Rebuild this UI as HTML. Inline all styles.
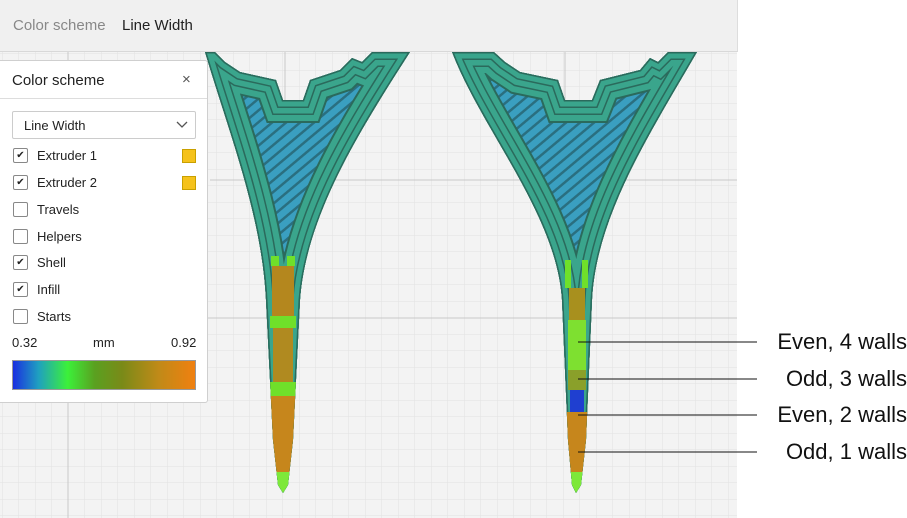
<!DOCTYPE html>
<html><head><meta charset="utf-8"><style>
body{margin:0;width:907px;height:518px;overflow:hidden;background:#fff;font-family:"Liberation Sans",sans-serif;position:relative}
.tb{position:absolute;left:0;top:0;width:737px;height:51px;background:#f0f0f0;border-bottom:1px solid #d8d8d8;border-right:1px solid #ddd}
.panel{position:absolute;left:0;top:60px;width:207px;height:341px;background:#fff;border:1px solid #cfcfcf;border-left:none;border-radius:0 3px 3px 0}
.t{position:absolute;font-size:13px;color:#222;white-space:nowrap}
.cb{position:absolute;left:13px;width:13px;height:13px;border:1px solid #888;border-radius:2px;background:#fff;font-size:10px;line-height:13px;text-align:center;color:#222}
.sw{position:absolute;left:182px;width:12px;height:12px;background:#f5c21b;border:1px solid #c9a000}
.ann{position:absolute;right:0;font-size:22px;color:#111;white-space:nowrap}
</style></head><body>
<svg width="907" height="518" style="position:absolute;left:0;top:0">
<defs>
<pattern id="g" width="16.5" height="16.5" patternUnits="userSpaceOnUse" x="2" y="4">
<rect width="16.5" height="16.5" fill="#f3f3f3"/><path d="M0 0H16.5M0 0V16.5" stroke="#e2e2e2" stroke-width="1"/></pattern>
<pattern id="h" width="9" height="9" patternUnits="userSpaceOnUse" patternTransform="rotate(-40)">
<rect width="9" height="9" fill="#3a9fc0"/><rect y="6.5" width="9" height="2.5" fill="#2a6f80"/></pattern>
<path id="L" d="M205,52 C228,130 262,215 266,300 L273,440 L278,485 L283,493 L288,485 L293,440 L300,300 C306,215 360,130 410,52 L372,52 L362,62 L352,58 L340,70 L310,80 L303,100 L283,100 L276,80 L240,72 L225,62 L215,52 Z"/>
<path id="R" d="M452,52 C482,130 557,215 562,300 L568,440 L572,485 L576,493 L581,485 L586,440 L592,300 C596,215 652,130 697,52 L668,52 L658,62 L650,58 L640,70 L600,80 L592,100 L565,100 L558,80 L520,72 L505,62 L494,52 Z"/>
<clipPath id="cL"><use href="#L"/></clipPath>
<clipPath id="cR"><use href="#R"/></clipPath>
</defs>
<rect width="737" height="518" fill="url(#g)"/>
<path d="M68 52V518M285 52V100M565 52V100M0 318H737M210 180H737" stroke="#c8c8c8" stroke-width="1"/>
<g clip-path="url(#cL)">
<use href="#L" fill="url(#h)"/>
<use href="#L" fill="none" stroke="#2b6a5c" stroke-width="46"/>
<use href="#L" fill="none" stroke="#3aa58c" stroke-width="42"/>
<use href="#L" fill="none" stroke="#2b6a5c" stroke-width="30"/>
<use href="#L" fill="none" stroke="#3aa58c" stroke-width="27"/>
<use href="#L" fill="none" stroke="#2b6a5c" stroke-width="16"/>
<use href="#L" fill="none" stroke="#3aa58c" stroke-width="13"/>
<use href="#L" fill="none" stroke="#2b6a5c" stroke-width="3"/>
<rect x="271" y="256" width="8" height="10" fill="#6fe02a"/><rect x="287" y="256" width="8" height="10" fill="#6fe02a"/>
<rect x="272" y="266" width="22" height="50" fill="#b4871e"/>
<rect x="270" y="316" width="26" height="12" fill="#6fe02a"/><rect x="273" y="328" width="20" height="54" fill="#b08a20"/>
<rect x="270" y="382" width="26" height="14" fill="#6fe02a"/><rect x="270" y="396" width="26" height="76" fill="#c6861c"/>
<rect x="270" y="472" width="26" height="22" fill="#7de83a"/>
</g>
<g clip-path="url(#cR)">
<use href="#R" fill="url(#h)"/>
<use href="#R" fill="none" stroke="#2b6a5c" stroke-width="46"/>
<use href="#R" fill="none" stroke="#3aa58c" stroke-width="42"/>
<use href="#R" fill="none" stroke="#2b6a5c" stroke-width="30"/>
<use href="#R" fill="none" stroke="#3aa58c" stroke-width="27"/>
<use href="#R" fill="none" stroke="#2b6a5c" stroke-width="16"/>
<use href="#R" fill="none" stroke="#3aa58c" stroke-width="13"/>
<use href="#R" fill="none" stroke="#2b6a5c" stroke-width="3"/>
<rect x="565" y="260" width="6" height="28" fill="#6fe02a"/><rect x="582" y="260" width="6" height="28" fill="#6fe02a"/>
<rect x="569" y="288" width="16" height="32" fill="#a8901e"/>
<rect x="568" y="320" width="18" height="50" fill="#7ee030"/><rect x="568" y="370" width="18" height="20" fill="#8aa02a"/>
<rect x="570" y="390" width="14" height="22" fill="#1f3fd0"/><rect x="566" y="412" width="22" height="60" fill="#c6861c"/>
<rect x="560" y="472" width="35" height="22" fill="#7de83a"/>
</g>
<path d="M578 342H757M578 379H757M578 415H757M578 452H757" stroke="#111" stroke-width="1"/>
<path d="M715 22l5 5 5-5" fill="none" stroke="#555" stroke-width="1.3"/>
</svg>
<div class="tb"><span class="t" style="left:13px;top:17px;font-size:15px;color:#888">Color scheme</span><span class="t" style="left:122px;top:17px;font-size:15px">Line Width</span></div>
<div class="panel">
<span class="t" style="left:12px;top:11px;font-size:15px">Color scheme</span>
<span class="t" style="left:182px;top:10px;font-size:15px;color:#555">×</span>
<div style="position:absolute;left:0;top:37px;width:207px;border-top:1px solid #ddd"></div>
<div style="position:absolute;left:12px;top:50px;width:182px;height:26px;border:1px solid #ccc;border-radius:2px"></div>
<span class="t" style="left:24px;top:57px">Line Width</span>
<svg style="position:absolute;left:176px;top:60px" width="12" height="8"><path d="M1 1l5 5 5-5" fill="none" stroke="#555" stroke-width="1.3"/></svg>
<div class="cb" style="top:87px">✔</div><span class="t" style="left:37px;top:87px">Extruder 1</span><div class="sw" style="top:88px"></div>
<div class="cb" style="top:114px">✔</div><span class="t" style="left:37px;top:114px">Extruder 2</span><div class="sw" style="top:115px"></div>
<div class="cb" style="top:141px"></div><span class="t" style="left:37px;top:141px">Travels</span>
<div class="cb" style="top:168px"></div><span class="t" style="left:37px;top:168px">Helpers</span>
<div class="cb" style="top:194px">✔</div><span class="t" style="left:37px;top:194px">Shell</span>
<div class="cb" style="top:221px">✔</div><span class="t" style="left:37px;top:221px">Infill</span>
<div class="cb" style="top:248px"></div><span class="t" style="left:37px;top:248px">Starts</span>
<span class="t" style="left:12px;top:274px">0.32</span><span class="t" style="left:93px;top:274px">mm</span><span class="t" style="left:171px;top:274px">0.92</span>
<div style="position:absolute;left:12px;top:299px;width:182px;height:28px;border:1px solid #999;background:linear-gradient(90deg,#1a2fe0 0%,#1fa0c0 14%,#3cf03a 30%,#5aa020 45%,#7a8a18 60%,#c08a18 80%,#f08010 100%)"></div>
</div>
<span class="ann" style="top:329px">Even, 4 walls</span>
<span class="ann" style="top:366px">Odd, 3 walls</span>
<span class="ann" style="top:402px">Even, 2 walls</span>
<span class="ann" style="top:439px">Odd, 1 walls</span>
</body></html>
